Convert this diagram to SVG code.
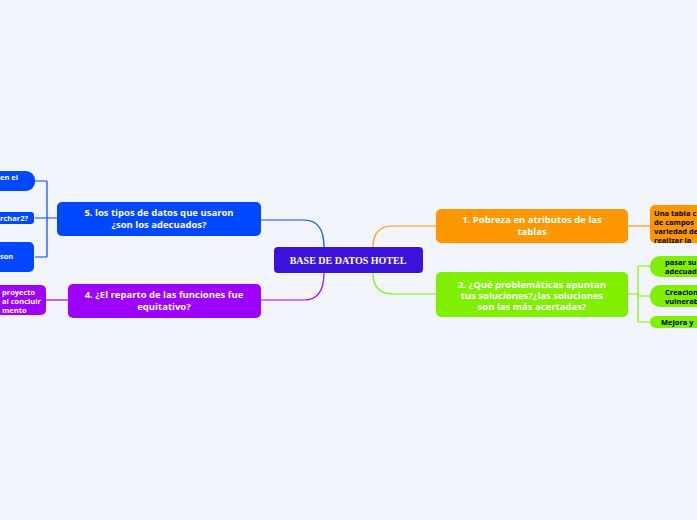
<svg xmlns="http://www.w3.org/2000/svg" width="697" height="520" viewBox="0 0 697 520">
<style>
text{font-family:"Open Sans","DejaVu Sans",sans-serif;font-weight:bold;fill:#fff}
.m{font-size:9.5px}.s{font-size:7.5px}.d{fill:#000}
.c{fill:none;stroke-width:1.2}
</style>
<rect width="697" height="520" fill="#f3f5fd"/>
<g id="connectors">
<path class="c" stroke="#ff9800" d="M373 247 Q373 226 393 226 H436"/>
<path class="c" stroke="#80f000" d="M373 273 Q373 294 393 294 H436"/>
<path class="c" stroke="#0048ff" d="M324 247 Q324 220 304 220 H261"/>
<path class="c" stroke="#9d00ff" d="M324 273 Q324 300 304 300 H261"/>
<path class="c" stroke="#ff9800" d="M628 226 H650"/>
<path class="c" stroke="#80f000" d="M628 294 H638 M638 266 V322 M638 266 H650 M638 296 H650 M638 322 H650"/>
<path class="c" stroke="#0048ff" d="M57 218 H47 M47 181 V257 M47 181 H35 M47 218 H35 M47 257 H35"/>
<path class="c" stroke="#9d00ff" d="M68 300 H46"/>
</g>
<g id="center"><rect x="274" y="247" width="149" height="26" rx="4" fill="#3a12d8"/><text x="348" y="264" text-anchor="middle" style="font-family:'Liberation Serif',serif;font-size:10px">BASE DE DATOS HOTEL</text></g>
<g id="n1"><rect x="436" y="209" width="192" height="34" rx="5" fill="#ff9800"/><text class="m" x="532" y="223" text-anchor="middle">1. Pobreza en atributos de las</text><text class="m" x="532" y="235" text-anchor="middle">tablas</text></g>
<g id="n2"><rect x="436" y="272" width="192" height="45" rx="5" fill="#80f000"/><text class="m" x="532" y="288" text-anchor="middle">2. ¿Qué problemáticas apuntan</text><text class="m" x="532" y="299" text-anchor="middle">tus soluciones?¿las soluciones</text><text class="m" x="532" y="310" text-anchor="middle">son las más acertadas?</text></g>
<g id="n5"><rect x="57" y="202" width="204" height="34" rx="5" fill="#0048ff"/><text class="m" x="159" y="216" text-anchor="middle">5. los tipos de datos que usaron</text><text class="m" x="159" y="228" text-anchor="middle">¿son los adecuados?</text></g>
<g id="n4"><rect x="68" y="284" width="193" height="34" rx="5" fill="#9d00ff"/><text class="m" x="164" y="298" text-anchor="middle">4. ¿El reparto de las funciones fue</text><text class="m" x="164" y="310" text-anchor="middle">equitativo?</text></g>
<g id="n1a"><rect x="650" y="205" width="60" height="38" rx="5" fill="#ff9800"/><text class="s d" x="654" y="216">Una tabla c</text><text class="s d" x="654" y="225">de campos</text><text class="s d" x="654" y="234">variedad de</text><text class="s d" x="654" y="243">realizar la</text></g>
<g id="n2a"><rect x="650" y="256" width="60" height="21" rx="10" fill="#80f000"/><text class="s d" x="665" y="265">pasar su</text><text class="s d" x="665" y="274">adecuad</text></g>
<g id="n2b"><rect x="650" y="285" width="60" height="22" rx="10" fill="#80f000"/><text class="s d" x="665" y="295">Creacion</text><text class="s d" x="665" y="304">vulnerabl</text></g>
<g id="n2c"><rect x="650" y="316" width="60" height="12" rx="6" fill="#80f000"/><text class="s d" x="661" y="325">Mejora y</text></g>
<g id="n5a"><rect x="-20" y="171" width="55" height="20" rx="9" fill="#0048ff"/><text class="s" x="0" y="180">en el</text></g>
<g id="n5b"><rect x="-20" y="212" width="54" height="12" rx="3" fill="#0048ff"/><text class="s" x="0" y="221">rchar2?</text></g>
<g id="n5c"><rect x="-20" y="242" width="54" height="30" rx="5" fill="#0048ff"/><text class="s" x="0" y="259">son</text></g>
<g id="n4a"><rect x="-20" y="285" width="66" height="30" rx="5" fill="#9d00ff"/><text class="s" x="2" y="295">proyecto</text><text class="s" x="2" y="304">al concluir</text><text class="s" x="2" y="313">mento</text></g>
</svg>
